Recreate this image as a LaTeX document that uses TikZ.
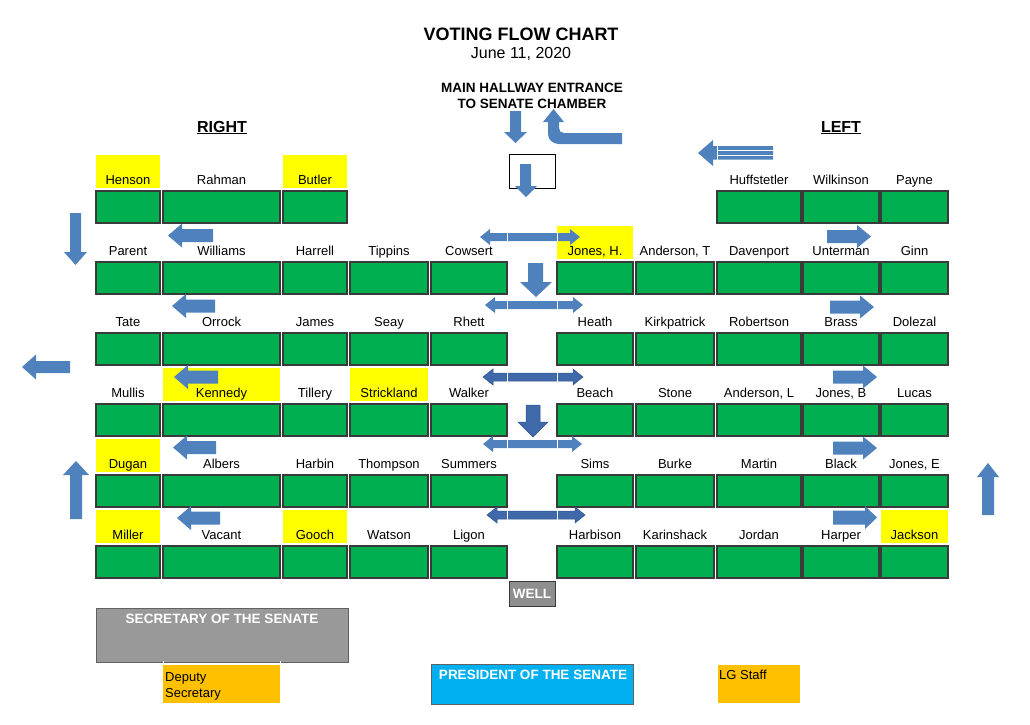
\documentclass[tikz,border=0pt]{standalone}
\usepackage{fontspec}
\setmainfont{Liberation Sans}
\definecolor{seatgreen}{HTML}{00B050}
\definecolor{seatedge}{HTML}{3A3A3A}
\definecolor{hiyellow}{HTML}{FFFF00}
\definecolor{arrowblue}{HTML}{4F81BD}
\definecolor{arrowdark}{HTML}{3F69A8}
\definecolor{arrowedge}{HTML}{2F528F}
\definecolor{secgray}{HTML}{999999}
\definecolor{wellgray}{HTML}{8E8E8E}
\definecolor{staffgold}{HTML}{FFC000}
\definecolor{prescyan}{HTML}{00B0F0}
\begin{document}
\begin{tikzpicture}[x=1pt,y=1pt,yscale=-1,xscale=1,
  seat/.style={draw=seatedge,fill=seatgreen,line width=1.2},
  hilite/.style={fill=hiyellow,draw=none},
  blockarrow/.style={fill=arrowblue},
  darkarrow/.style={fill=arrowdark,draw=arrowedge,line width=0.5},
  gap/.style={draw=white,line width=0.9},
  seatname/.style={anchor=base,inner sep=0,font=\fontsize{13}{15}\selectfont},
  heading/.style={anchor=base,inner sep=0,font=\fontsize{13.5}{15}\selectfont\bfseries}]
\path (0,0) rectangle (1030,724); %set diagram to the page size

%Shape: Highlights
\fill [hilite] (96,155) rectangle (160,188) ;
\fill [hilite] (283,155) rectangle (347,188) ;
\fill [hilite] (557,226) rectangle (633,259) ;
\fill [hilite] (163,368) rectangle (280,401) ;
\fill [hilite] (350,368) rectangle (428,401) ;
\fill [hilite] (96,439) rectangle (160,472) ;
\fill [hilite] (96,510) rectangle (160,543) ;
\fill [hilite] (283,510) rectangle (347,543) ;
\fill [hilite] (881,510) rectangle (948,543) ;

%Shape: Seats row 1
\draw [seat] (96,191) rectangle (160,223) ;
\draw [seat] (163,191) rectangle (280,223) ;
\draw [seat] (283,191) rectangle (347,223) ;
\draw [seat] (717,191) rectangle (801,223) ;
\draw [seat] (803,191) rectangle (879,223) ;
\draw [seat] (881,191) rectangle (948,223) ;
%Shape: Seats row 2
\draw [seat] (96,262) rectangle (160,294) ;
\draw [seat] (163,262) rectangle (280,294) ;
\draw [seat] (283,262) rectangle (347,294) ;
\draw [seat] (350,262) rectangle (428,294) ;
\draw [seat] (431,262) rectangle (507,294) ;
\draw [seat] (557,262) rectangle (633,294) ;
\draw [seat] (636,262) rectangle (714,294) ;
\draw [seat] (717,262) rectangle (801,294) ;
\draw [seat] (803,262) rectangle (879,294) ;
\draw [seat] (881,262) rectangle (948,294) ;
%Shape: Seats row 3
\draw [seat] (96,333) rectangle (160,365) ;
\draw [seat] (163,333) rectangle (280,365) ;
\draw [seat] (283,333) rectangle (347,365) ;
\draw [seat] (350,333) rectangle (428,365) ;
\draw [seat] (431,333) rectangle (507,365) ;
\draw [seat] (557,333) rectangle (633,365) ;
\draw [seat] (636,333) rectangle (714,365) ;
\draw [seat] (717,333) rectangle (801,365) ;
\draw [seat] (803,333) rectangle (879,365) ;
\draw [seat] (881,333) rectangle (948,365) ;
%Shape: Seats row 4
\draw [seat] (96,404) rectangle (160,436) ;
\draw [seat] (163,404) rectangle (280,436) ;
\draw [seat] (283,404) rectangle (347,436) ;
\draw [seat] (350,404) rectangle (428,436) ;
\draw [seat] (431,404) rectangle (507,436) ;
\draw [seat] (557,404) rectangle (633,436) ;
\draw [seat] (636,404) rectangle (714,436) ;
\draw [seat] (717,404) rectangle (801,436) ;
\draw [seat] (803,404) rectangle (879,436) ;
\draw [seat] (881,404) rectangle (948,436) ;
%Shape: Seats row 5
\draw [seat] (96,475) rectangle (160,507) ;
\draw [seat] (163,475) rectangle (280,507) ;
\draw [seat] (283,475) rectangle (347,507) ;
\draw [seat] (350,475) rectangle (428,507) ;
\draw [seat] (431,475) rectangle (507,507) ;
\draw [seat] (557,475) rectangle (633,507) ;
\draw [seat] (636,475) rectangle (714,507) ;
\draw [seat] (717,475) rectangle (801,507) ;
\draw [seat] (803,475) rectangle (879,507) ;
\draw [seat] (881,475) rectangle (948,507) ;
%Shape: Seats row 6
\draw [seat] (96,546) rectangle (160,578) ;
\draw [seat] (163,546) rectangle (280,578) ;
\draw [seat] (283,546) rectangle (347,578) ;
\draw [seat] (350,546) rectangle (428,578) ;
\draw [seat] (431,546) rectangle (507,578) ;
\draw [seat] (557,546) rectangle (633,578) ;
\draw [seat] (636,546) rectangle (714,578) ;
\draw [seat] (717,546) rectangle (801,578) ;
\draw [seat] (803,546) rectangle (879,578) ;
\draw [seat] (881,546) rectangle (948,578) ;

%Shape: Well
\draw [draw=seatedge,fill=wellgray,line width=0.8] (509,581) rectangle (555,606) ;
%Shape: Secretary of the Senate
\draw [draw=seatedge!80,fill=secgray,line width=0.8] (96,608) rectangle (348,662) ;
\draw [gap] (163,661) -- (163,663) (280,661) -- (280,663) ;
\fill [staffgold] (163,665) rectangle (280,703) ;
%Shape: President of the Senate
\draw [draw=seatedge!80,fill=prescyan,line width=0.8] (431,664) rectangle (633,704) ;
\fill [staffgold] (718,665) rectangle (800,703) ;
%Shape: Entrance box
\draw [line width=0.8] (509,154) rectangle (555,188) ;

% Text Node
\draw (521,40) node [anchor=base,inner sep=0,font=\fontsize{18}{21}\selectfont\bfseries] (title) {VOTING FLOW CHART};
% Text Node
\draw (521,58) node [anchor=base,inner sep=0,font=\fontsize{16}{18}\selectfont] (date) {June 11, 2020};
% Text Node
\draw (532,92) node [heading] (hall1) {MAIN HALLWAY ENTRANCE};
% Text Node
\draw (532,108) node [heading] (hall2) {TO SENATE CHAMBER};
% Text Node
\draw (222,132) node [anchor=base,inner sep=0,font=\fontsize{16}{18}\selectfont\bfseries] (right) {\underline{RIGHT}};
% Text Node
\draw (841,132) node [anchor=base,inner sep=0,font=\fontsize{16}{18}\selectfont\bfseries] (left) {\underline{LEFT}};

% Text Node row 1
\draw (128,184) node [seatname] (henson) {Henson};
\draw (221.5,184) node [seatname] (rahman) {Rahman};
\draw (315,184) node [seatname] (butler) {Butler};
\draw (759,184) node [seatname] (huffstetler) {Huffstetler};
\draw (841,184) node [seatname] (wilkinson) {Wilkinson};
\draw (914.5,184) node [seatname] (payne) {Payne};
% Text Node row 2
\draw (128,255) node [seatname] (parent) {Parent};
\draw (221.5,255) node [seatname] (williams) {Williams};
\draw (315,255) node [seatname] (harrell) {Harrell};
\draw (389,255) node [seatname] (tippins) {Tippins};
\draw (469,255) node [seatname] (cowsert) {Cowsert};
\draw (595,255) node [seatname] (jonesh) {Jones, H.};
\draw (675,255) node [seatname] (andersont) {Anderson, T};
\draw (759,255) node [seatname] (davenport) {Davenport};
\draw (841,255) node [seatname] (unterman) {Unterman};
\draw (914.5,255) node [seatname] (ginn) {Ginn};
% Text Node row 3
\draw (128,326) node [seatname] (tate) {Tate};
\draw (221.5,326) node [seatname] (orrock) {Orrock};
\draw (315,326) node [seatname] (james) {James};
\draw (389,326) node [seatname] (seay) {Seay};
\draw (469,326) node [seatname] (rhett) {Rhett};
\draw (595,326) node [seatname] (heath) {Heath};
\draw (675,326) node [seatname] (kirkpatrick) {Kirkpatrick};
\draw (759,326) node [seatname] (robertson) {Robertson};
\draw (841,326) node [seatname] (brass) {Brass};
\draw (914.5,326) node [seatname] (dolezal) {Dolezal};
% Text Node row 4
\draw (128,397) node [seatname] (mullis) {Mullis};
\draw (221.5,397) node [seatname] (kennedy) {Kennedy};
\draw (315,397) node [seatname] (tillery) {Tillery};
\draw (389,397) node [seatname] (strickland) {Strickland};
\draw (469,397) node [seatname] (walker) {Walker};
\draw (595,397) node [seatname] (beach) {Beach};
\draw (675,397) node [seatname] (stone) {Stone};
\draw (759,397) node [seatname] (andersonl) {Anderson, L};
\draw (841,397) node [seatname] (jonesb) {Jones, B};
\draw (914.5,397) node [seatname] (lucas) {Lucas};
% Text Node row 5
\draw (128,468) node [seatname] (dugan) {Dugan};
\draw (221.5,468) node [seatname] (albers) {Albers};
\draw (315,468) node [seatname] (harbin) {Harbin};
\draw (389,468) node [seatname] (thompson) {Thompson};
\draw (469,468) node [seatname] (summers) {Summers};
\draw (595,468) node [seatname] (sims) {Sims};
\draw (675,468) node [seatname] (burke) {Burke};
\draw (759,468) node [seatname] (martin) {Martin};
\draw (841,468) node [seatname] (black) {Black};
\draw (914.5,468) node [seatname] (jonese) {Jones, E};
% Text Node row 6
\draw (128,539) node [seatname] (miller) {Miller};
\draw (221.5,539) node [seatname] (vacant) {Vacant};
\draw (315,539) node [seatname] (gooch) {Gooch};
\draw (389,539) node [seatname] (watson) {Watson};
\draw (469,539) node [seatname] (ligon) {Ligon};
\draw (595,539) node [seatname] (harbison) {Harbison};
\draw (675,539) node [seatname] (karinshack) {Karinshack};
\draw (759,539) node [seatname] (jordan) {Jordan};
\draw (841,539) node [seatname] (harper) {Harper};
\draw (914.5,539) node [seatname] (jackson) {Jackson};

% Text Node
\draw (532,598) node [heading,text=white] (well) {WELL};
% Text Node
\draw (222,623) node [heading,text=white] (secretary) {SECRETARY OF THE SENATE};
% Text Node
\draw (165,697) node [anchor=base west,inner sep=0,align=left,font=\fontsize{13}{16}\selectfont] (deputy) {Deputy\\Secretary};
% Text Node
\draw (533,679) node [heading,text=white] (president) {PRESIDENT OF THE SENATE};
% Text Node
\draw (719,679) node [anchor=base west,inner sep=0,font=\fontsize{13}{15}\selectfont] (lgstaff) {LG Staff};

%Shape: Left Arrows (right side aisle)
\fill [blockarrow] (168,235.5) -- (182,223.5) -- (182,229) -- (213,229) -- (213,242) -- (182,242) -- (182,247.5) -- cycle ;
\fill [blockarrow] (172,306) -- (186,294) -- (186,299.5) -- (215,299.5) -- (215,312.5) -- (186,312.5) -- (186,318) -- cycle ;
\fill [blockarrow] (174,377) -- (188,365) -- (188,370.5) -- (218,370.5) -- (218,383.5) -- (188,383.5) -- (188,389) -- cycle ;
\fill [blockarrow] (173,447.5) -- (187,435.5) -- (187,441) -- (216,441) -- (216,454) -- (187,454) -- (187,459.5) -- cycle ;
\fill [blockarrow] (177,518) -- (191,506) -- (191,511.5) -- (220,511.5) -- (220,524.5) -- (191,524.5) -- (191,530) -- cycle ;
%Shape: Right Arrows (left side aisle)
\fill [blockarrow] (871,236.5) -- (857,225) -- (857,230) -- (827,230) -- (827,243) -- (857,243) -- (857,248) -- cycle ;
\fill [blockarrow] (874,307) -- (860,295.5) -- (860,300.5) -- (830,300.5) -- (830,313.5) -- (860,313.5) -- (860,318.5) -- cycle ;
\fill [blockarrow] (877,377) -- (863,365.5) -- (863,370.5) -- (833,370.5) -- (833,383.5) -- (863,383.5) -- (863,388.5) -- cycle ;
\fill [blockarrow] (877,448) -- (863,436.5) -- (863,441.5) -- (833,441.5) -- (833,454.5) -- (863,454.5) -- (863,459.5) -- cycle ;
\fill [blockarrow] (877,517.5) -- (865,506) -- (865,510.5) -- (833,510.5) -- (833,524.5) -- (865,524.5) -- (865,529) -- cycle ;

%Shape: Outer Arrows
\fill [blockarrow] (22,367) -- (36,354.5) -- (36,361) -- (70,361) -- (70,373) -- (36,373) -- (36,379.5) -- cycle ;
\fill [blockarrow] (70,213) -- (81,213) -- (81,252) -- (87,252) -- (75.5,265) -- (64,252) -- (70,252) -- cycle ;
\fill [blockarrow] (76,461) -- (89,475) -- (82,475) -- (82,519) -- (70,519) -- (70,475) -- (63,475) -- cycle ;
\fill [blockarrow] (988,463) -- (999,477) -- (994,477) -- (994,515) -- (982,515) -- (982,477) -- (977,477) -- cycle ;

%Shape: Entrance Arrows
\fill [blockarrow] (510,111) -- (521,111) -- (521,132) -- (527,132) -- (515.5,143) -- (504,132) -- (510,132) -- cycle ;
\fill [blockarrow] (543,122) -- (553.5,109) -- (564,122) -- (559,122) -- (559,128) .. controls (559,131) and (561,133) .. (564,133) -- (622,133) -- (622,144) -- (559,144) .. controls (553,144) and (548,140) .. (548,134) -- (548,122) -- cycle ;
\fill [blockarrow] (520,164) -- (531,164) -- (531,186) -- (537,186) -- (526,197) -- (515,186) -- (520,186) -- cycle ;
%Shape: Triple Left Arrow
\fill [blockarrow] (698,153) -- (713,140) -- (713,146) -- (773,146) -- (773,159.5) -- (713,159.5) -- (713,166) -- cycle ;
\draw [gap] (717,145) -- (717,161) ;
\draw [gap] (717,150) -- (774,150) ;
\draw [gap] (717,155.5) -- (774,155.5) ;

%Shape: Centre Down Arrows
\fill [blockarrow] (528,263) -- (543,263) -- (543,282) -- (552,282) -- (536,297) -- (520,282) -- (528,282) -- cycle ;
\draw [darkarrow] (526,405) -- (540,405) -- (540,422) -- (548,422) -- (533,437) -- (518,422) -- (526,422) -- cycle ;

%Shape: Double Arrows
\fill [blockarrow] (480,237) -- (490,229) -- (490,233) -- (570,233) -- (570,229) -- (580,237) -- (570,245) -- (570,241) -- (490,241) -- (490,245) -- cycle ;
\fill [blockarrow] (485,305) -- (495,297) -- (495,301) -- (573,301) -- (573,297) -- (583,305) -- (573,313) -- (573,309) -- (495,309) -- (495,313) -- cycle ;
\draw [darkarrow] (483,377) -- (493,369) -- (493,373) -- (573,373) -- (573,369) -- (583,377) -- (573,385) -- (573,381) -- (493,381) -- (493,385) -- cycle ;
\fill [blockarrow] (483,444) -- (493,436) -- (493,440) -- (572,440) -- (572,436) -- (582,444) -- (572,452) -- (572,448) -- (493,448) -- (493,452) -- cycle ;
\draw [darkarrow] (487,515) -- (497,507) -- (497,511) -- (575,511) -- (575,507) -- (585,515) -- (575,523) -- (575,519) -- (497,519) -- (497,523) -- cycle ;
\draw [gap] (507,232) -- (507,242) (557,232) -- (557,242) ;
\draw [gap] (507,300) -- (507,310) (557,300) -- (557,310) ;
\draw [gap] (507,372) -- (507,382) (557,372) -- (557,382) ;
\draw [gap] (507,439) -- (507,449) (557,439) -- (557,449) ;
\draw [gap] (507,510) -- (507,520) (557,510) -- (557,520) ;

\end{tikzpicture}
\end{document}
